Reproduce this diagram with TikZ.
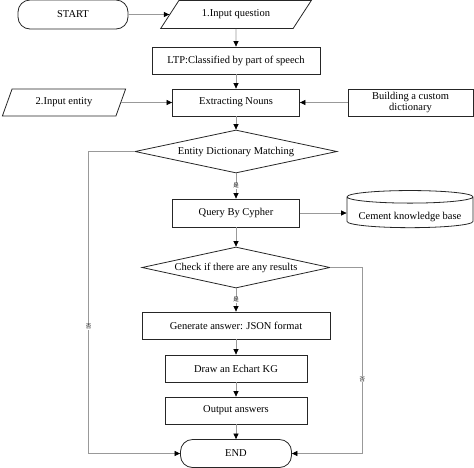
\documentclass[tikz,border=0pt]{standalone}
\usepackage{fontspec}
\setmainfont{Liberation Serif}
\newfontfamily\cjk{Noto Sans CJK SC}
\usetikzlibrary{shapes.geometric, arrows.meta, positioning}

\begin{document}
\begin{tikzpicture}[x=1pt,y=-1pt,
  font=\fontsize{10.5}{11.5}\selectfont,
  box/.style={draw=black!85,line width=0.8pt,minimum height=27pt,inner sep=1pt},
  io/.style={trapezium,trapezium stretches=true,draw=black!85,line width=0.8pt,
    minimum height=27pt,inner sep=1pt},
  decision/.style={diamond,aspect=4.7,draw=black!85,line width=0.8pt,inner sep=0pt},
  term/.style={box,rounded corners=12pt},
  db/.style={cylinder,shape border rotate=90,aspect=0.12,draw=black!85,
    line width=0.8pt,inner sep=1pt},
  line/.style={gray!80,line width=0.7pt,-{Triangle[color=black,length=5.5pt,width=5pt]}},
  lbl/.style={text=black,font=\cjk\fontsize{5.5}{5.5}\selectfont,fill=white,inner sep=0.6pt}]
\useasboundingbox (0,0) rectangle (474,467);

% Main column.
\node[term,minimum width=110pt,minimum height=29pt] (start) at (73,14.5) {START};
\node[io,trapezium left angle=45,trapezium right angle=135,minimum width=152pt,
  minimum height=28pt] (inq) at (236,14.5) {1.Input question};
\node[box,minimum width=168pt] (ltp) at (236,60.5) {LTP:Classified by part of speech};
\node[box,minimum width=127pt] (noun) at (236,102.5) {Extracting Nouns};
\node[decision,minimum width=202pt,minimum height=43pt] (edm) at (236,151.5)
  {Entity Dictionary Matching};
\node[box,minimum width=127pt,minimum height=28pt] (qbc) at (236,213) {Query By Cypher};
\node[decision,minimum width=188pt,minimum height=41pt] (chk) at (236,267.5)
  {Check if there are any results};
\node[box,minimum width=188pt] (gen) at (236,325.5) {Generate answer: JSON format};
\node[box,minimum width=142pt] (echart) at (236,368.5) {Draw an Echart KG};
\node[box,minimum width=142pt] (out) at (236,410.5) {Output answers};
\node[term,minimum width=111pt,minimum height=28pt] (endn) at (236,453.5) {END};

% Side inputs and the database.
\node[io,trapezium left angle=64,trapezium right angle=116,minimum width=124pt]
  (ent) at (64,102.5) {2.Input entity};
\node[box,minimum width=125pt,align=center] (dict) at (410.5,102.5)
  {Building a custom\\dictionary};
\node[db,minimum width=126pt,minimum height=34pt,text height=15pt,text depth=2pt]
  (kb) at (410,213) {Cement knowledge base};

% Connectors.
\draw[line] (start) -- (inq);
\draw[line] (inq) -- (ltp);
\draw[line] (ltp) -- (noun);
\draw[line] (ent) -- (noun);
\draw[line] (dict) -- (noun);
\draw[line] (noun) -- (edm);
\draw[line] (edm) -- node[lbl] (yes1) {是} (qbc);
\draw[line] (qbc) -- (kb);
\draw[line] (qbc) -- (chk);
\draw[line] (chk) -- node[lbl] (yes2) {是} (gen);
\draw[line] (gen) -- (echart);
\draw[line] (echart) -- (out);
\draw[line] (out) -- (endn);

% The two "no" branches round to END.
\draw[line] (edm.west) -- ++(-46,0) |- node[lbl,pos=0.29] (no1) {否} (endn.west);
\draw[line] (chk.east) -- ++(32,0) |- node[lbl,pos=0.3] (no2) {否} (endn.east);
\end{tikzpicture}
\end{document}
